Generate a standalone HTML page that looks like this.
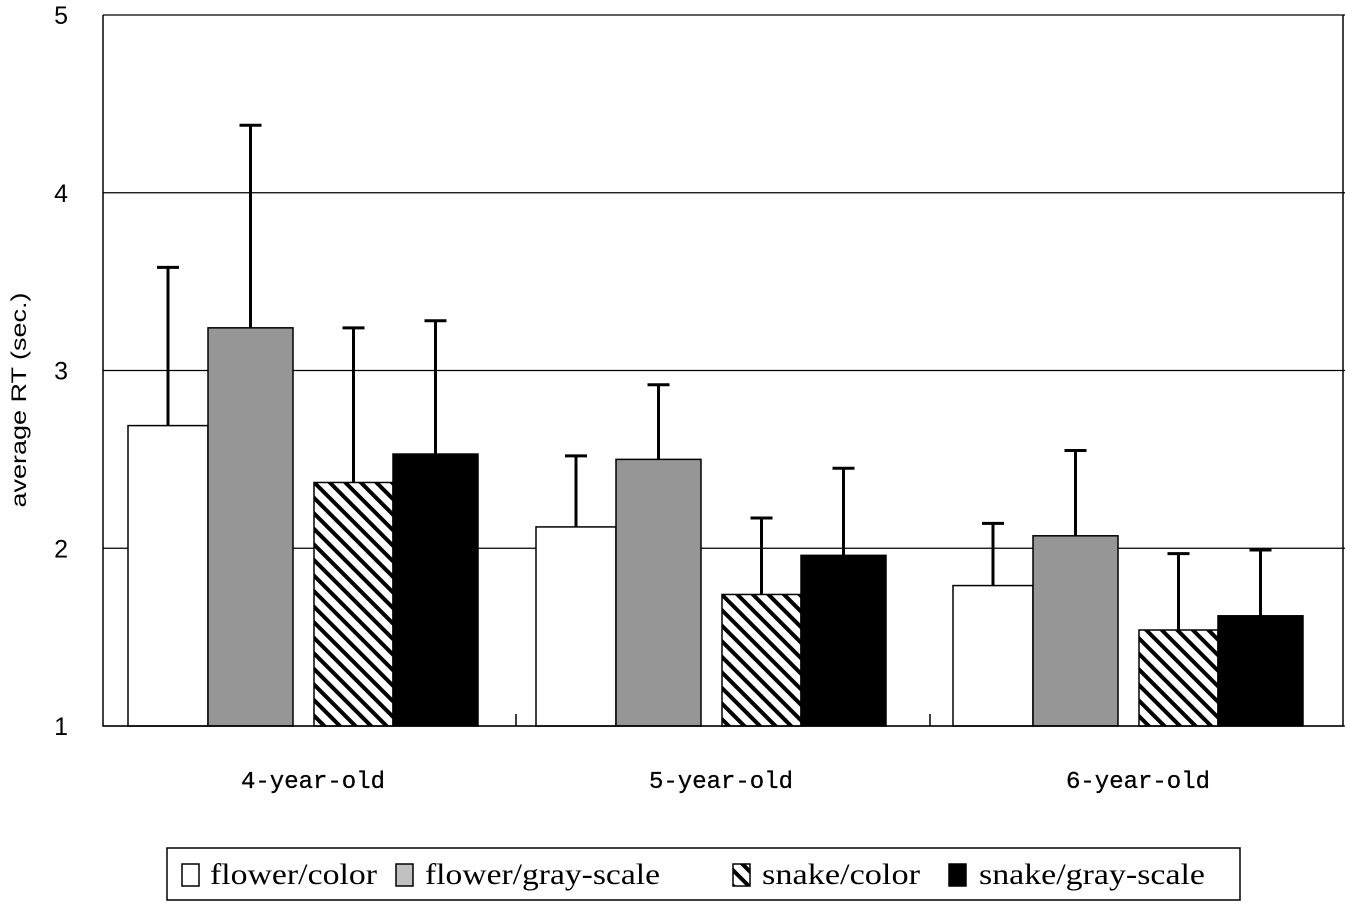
<!DOCTYPE html>
<html><head><meta charset="utf-8"><style>
body{margin:0;background:#fff;}
svg{display:block;}
</style></head><body>
<svg width="1345" height="906" xmlns="http://www.w3.org/2000/svg">
<defs><pattern id="hatch" patternUnits="userSpaceOnUse" width="11" height="11" patternTransform="rotate(-45)">
<rect width="11" height="11" fill="#fff"/><rect width="4" height="11" fill="#000"/></pattern></defs>
<g id="grid"></g><g id="bars"></g><g id="err"></g><g id="axes"></g>
<text x="26" y="400" transform="rotate(-90 26 400)" text-anchor="middle" font-family="Liberation Sans, sans-serif" font-size="21" textLength="215" lengthAdjust="spacingAndGlyphs">average RT (sec.)</text>
<g>
<rect x="167" y="848" width="1073" height="52" fill="#fff" stroke="#000" stroke-width="1.5"/>
<rect x="182" y="864" width="17" height="22" fill="#fff" stroke="#000" stroke-width="1.5"/>
<text x="210" y="884" font-family="Liberation Serif, serif" font-size="30" textLength="167" lengthAdjust="spacingAndGlyphs">flower/color</text>
<rect x="396" y="864" width="17" height="22" fill="#c0c0c0" stroke="#000" stroke-width="1.5"/>
<text x="425" y="884" font-family="Liberation Serif, serif" font-size="30" textLength="235" lengthAdjust="spacingAndGlyphs">flower/gray-scale</text>
<rect x="733" y="864" width="17" height="22" fill="url(#hatch)" stroke="#000" stroke-width="1.5"/>
<text x="762" y="884" font-family="Liberation Serif, serif" font-size="30" textLength="158" lengthAdjust="spacingAndGlyphs">snake/color</text>
<rect x="949" y="864" width="17" height="22" fill="#000" stroke="#000" stroke-width="1.5"/>
<text x="979" y="884" font-family="Liberation Serif, serif" font-size="30" textLength="226" lengthAdjust="spacingAndGlyphs">snake/gray-scale</text>
</g>
</svg>
<script>
const categories=["4-year-old","5-year-old","6-year-old"];
const seriesNames=["flower/color","flower/gray-scale","snake/color","snake/gray-scale"];
const flowerColor=[2.69,2.12,1.79];
const flowerGray=[3.24,2.50,2.07];
const snakeColor=[2.37,1.74,1.54];
const snakeGray=[2.53,1.96,1.62];
const flowerColorTop=[3.58,2.52,2.14];
const flowerGrayTop=[4.38,2.92,2.55];
const snakeColorTop=[3.24,2.17,1.97];
const snakeGrayTop=[3.28,2.45,1.99];
const yTicks=[1,2,3,4,5];

const NS="http://www.w3.org/2000/svg";
const y0=726,y1=15,yMin=1,yMax=5;
function y(v){return y0-(v-yMin)/(yMax-yMin)*(y0-y1);}
const groupLeft=[128,536,953];
function groupX(i){return groupLeft[i];}
const offs=[0,80,186,265],wids=[80,85,79,85];
const fills=["#fff","#969696","url(#hatch)","#000"];
const vals=[flowerColor,flowerGray,snakeColor,snakeGray];
const tops=[flowerColorTop,flowerGrayTop,snakeColorTop,snakeGrayTop];
function mk(tag,attrs,parent){const e=document.createElementNS(NS,tag);for(const k in attrs)e.setAttribute(k,attrs[k]);document.getElementById(parent).appendChild(e);return e;}
yTicks.forEach(t=>{
 const l=mk('line',{x1:103,x2:1345,y1:y(t),y2:y(t),stroke:'#000','stroke-width':1.3},'grid');
 
 
 const tx=mk('text',{x:68,y:y(t)+9,'text-anchor':'end','font-family':'Liberation Sans, sans-serif','font-size':25},'axes');
 tx.textContent=t;
 
 
});
categories.forEach((c,i)=>{
 vals.forEach((arr,s)=>{
  const x=groupX(i)+offs[s],w=wids[s];
  const r=mk('rect',{x:x,y:y(arr[i]),width:w,height:y0-y(arr[i]),fill:fills[s],stroke:'#000','stroke-width':1.5},'bars');
  
  
  const cx=x+w/2, tv=tops[s][i];
  const e=mk('path',{d:`M${cx},${y(arr[i])}V${y(tv)}M${cx-11},${y(tv)}H${cx+11}`,stroke:'#000','stroke-width':3,fill:'none'},'err');
  
  
 });
 const tx=mk('text',{x:groupX(i)+185,y:788,'text-anchor':'middle','font-family':'Liberation Mono, monospace','font-size':24,stroke:'#000','stroke-width':0.3},'axes');
 tx.textContent=c;
 
 
});
const ax=mk('path',{d:`M103,${y1}V${y0}H1343V${y1}M516,${y0}v-12M930,${y0}v-12`,stroke:'#000','stroke-width':1.5,fill:'none'},'axes');


</script>
</body></html>
